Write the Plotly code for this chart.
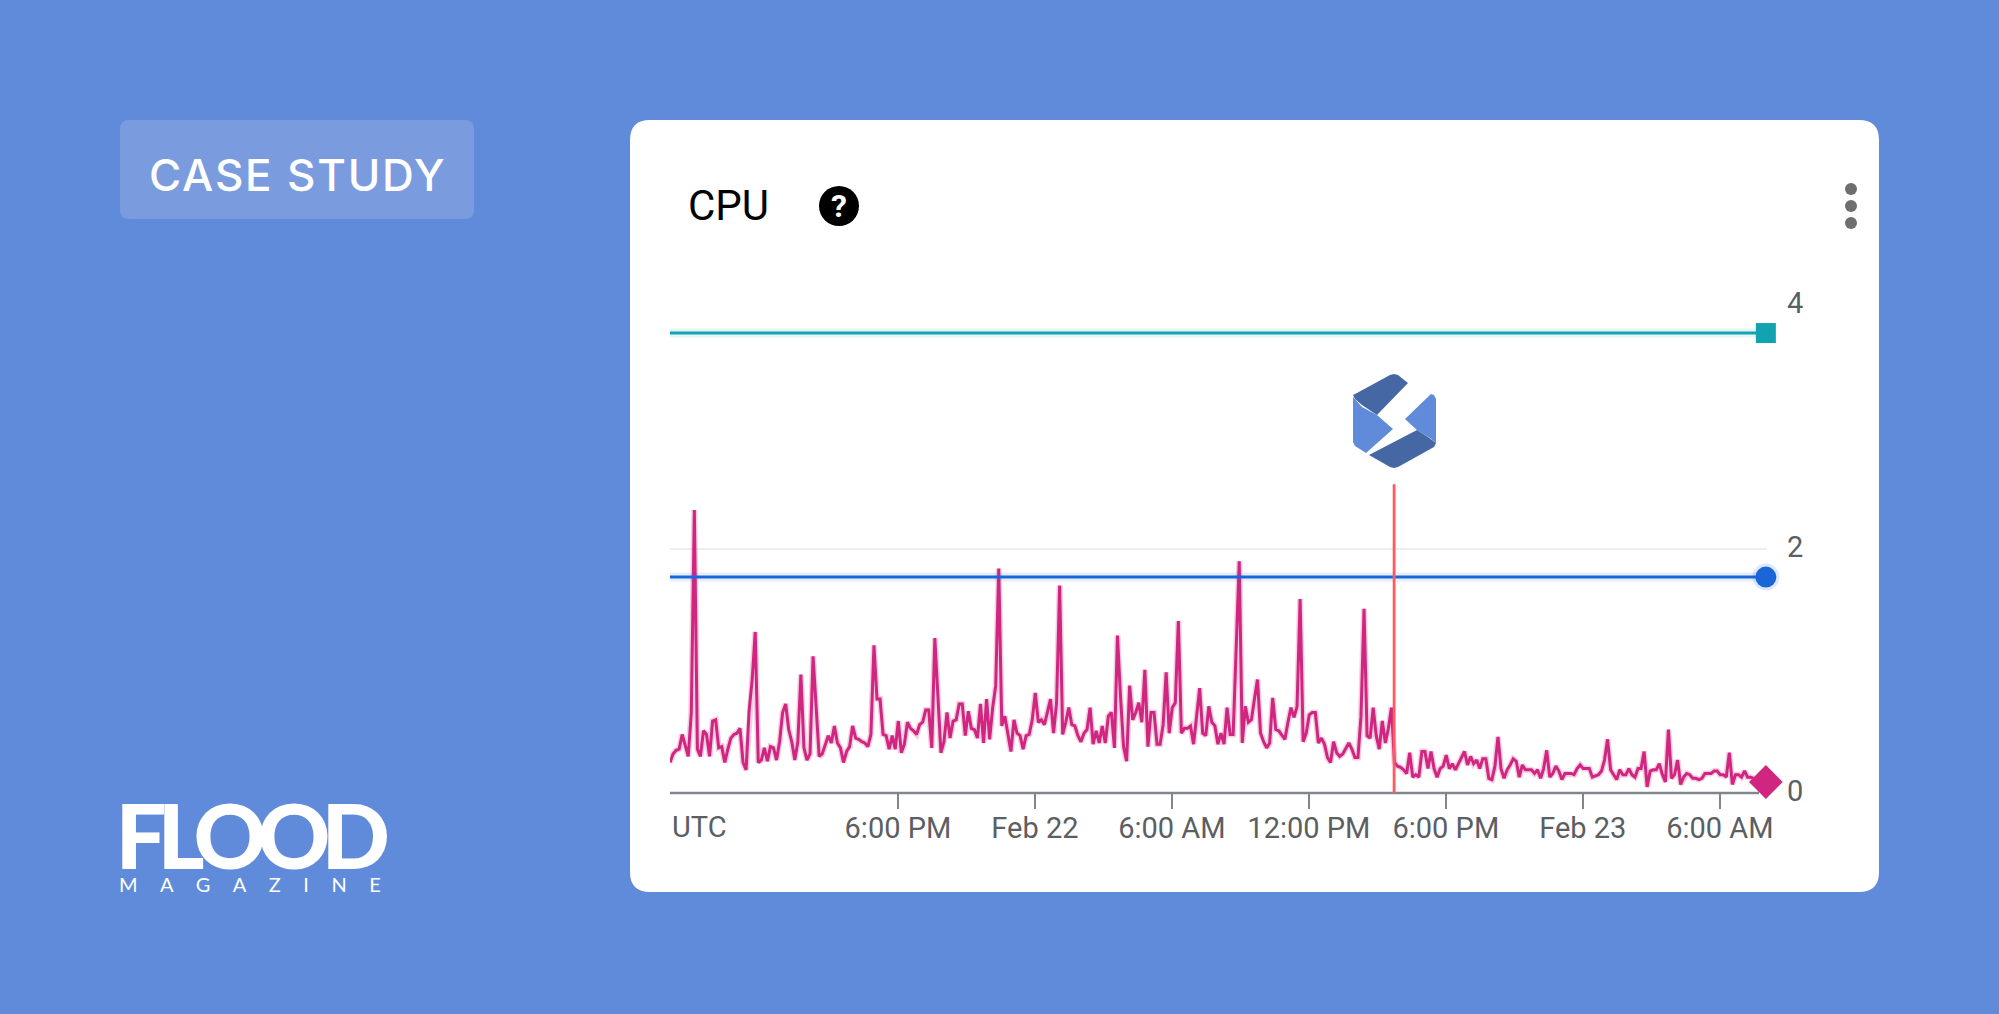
import pandas as pd
import plotly.graph_objs as go

W = 1999
H = 1014

START = '2021-02-21 08:01'
STEP = '8min'

cpu_morning = [
    .25, .32, .35, .36, .48, .38, .30, .66, 2.32, .36, .30, .51, .48, .30, .59, .60,
    .37, .38, .25, .36, .45, .48, .49, .53, .25, .19, .68, .93, 1.32, .25, .27, .37,
    .26, .38, .37, .27, .42, .66, .73, .52, .42, .27, .42, .97, .37, .27, .32, 1.12,
    .68, .30, .32, .40, .47, .41, .55, .41, .37, .25, .34, .38, .55,
]
cpu_evening = [
    .45, .44, .42, .41, .38, .48, 1.21, .77, .77, .48, .47, .36, .47, .36, .59, .33,
    .40, .58, .53, .51, .48, .56, .58, .68, .68, .37, 1.27, .79, .33, .42, .66, .45,
    .59, .60, .73, .73, .47, .67, .53, .52, .45, .73, .41, .77, .44, .70, .88, 1.84,
    .55, .63, .47, .34, .60, .49, .47, .36, .47, .48, .60, .82, .58,
]
cpu_night = [
    .60, .56, .66, .77, .49, .74, 1.70, .48, .58, .70, .56, .55, .47, .42, .49, .52,
    .70, .40, .51, .41, .55, .41, .63, .66, .37, 1.29, .79, .38, .26, .88, .60, .66,
    .74, .58, 1.01, .38, .66, .66, .40, .40, .56, .99, .49, .70, .74, 1.41, .49, .53,
    .53, .55, .40, .63, .86, .49, .47, .71, .58, .55, .40, .49, .40,
]
cpu_midday = [
    .70, .48, .48, 1.15, 1.90, .41, .71, .58, .60, .77, .93, .49, .42, .37, .41, .78,
    .52, .51, .47, .44, .58, .70, .62, .71, 1.59, .42, .49, .64, .66, .66, .41, .45,
    .40, .29, .25, .42, .33, .30, .32, .36, .41, .36, .29, .29, .63, 1.51, .47, .45,
    .70, .47, .36, .59, .41, .53, .70, .25, .22, .21, .19, .16,
]
cpu_after = [
    .33, .13, .15, .13, .34, .34, .20, .34, .20, .13, .20, .22, .31, .20, .24, .19,
    .24, .30, .34, .23, .30, .24, .27, .20, .28, .28, .12, .11, .22, .46, .20, .12,
    .19, .23, .28, .26, .13, .23, .19, .19, .19, .16, .19, .12, .20, .35, .13, .16,
    .22, .18, .11, .16, .16, .16, .15, .20,
]
cpu_last = [
    .23, .20, .20, .20, .13, .14, .15, .18, .27, .44, .19, .15, .11, .19, .15, .15,
    .20, .15, .13, .20, .20, .34, .05, .18, .19, .19, .24, .15, .09, .52, .12, .15,
    .27, .07, .13, .16, .15, .12, .12, .11, .12, .16, .16, .16, .18, .18, .15, .15,
    .13, .33, .07, .15, .15, .13, .18, .13, .13, .12, .08, .09, .09, .09,
]
cpu = cpu_morning + cpu_evening + cpu_night + cpu_midday + cpu_after + cpu_last

limit_high = 3.77
limit_request = 1.77
event_time = '2021-02-22 15:44'
event_span = [-0.17, 2.53]

x_ticks = ['2021-02-21 18:00', '2021-02-22 00:00', '2021-02-22 06:00', '2021-02-22 12:00',
           '2021-02-22 18:00', '2021-02-23 00:00', '2021-02-23 06:00']
x_labels = ['6:00 PM', 'Feb 22', '6:00 AM', '12:00 PM', '6:00 PM', 'Feb 23', '6:00 AM']
y_ticks = [0, 2, 4]

BG = '#5F8BDA'
MAGENTA = '#D0267F'
BLUE = '#1A66D6'
TEAL = '#12A3B2'
RED = '#FF5A60'
TEXT = '#5B5F63'
DARK_LOGO = '#4567A4'

times = pd.date_range(START, periods=len(cpu), freq=STEP)
t_end = times[-1]


def px(x):
    return x / W


def py(y):
    return 1 - y / H


def poly(points, color):
    path = 'M' + ' L'.join(f'{px(x):.5f},{py(y):.5f}' for x, y in points) + ' Z'
    return dict(type='path', xref='paper', yref='paper', path=path, layer='below',
                fillcolor=color, line=dict(width=0))


def round_rect(x0, y0, x1, y1, r, color):
    p = [('M', x0 + r, y0), ('L', x1 - r, y0), ('Q', x1, y0, x1, y0 + r), ('L', x1, y1 - r),
         ('Q', x1, y1, x1 - r, y1), ('L', x0 + r, y1), ('Q', x0, y1, x0, y1 - r),
         ('L', x0, y0 + r), ('Q', x0, y0, x0 + r, y0)]
    parts = []
    for seg in p:
        vals = seg[1:]
        coords = ' '.join(f'{px(vals[i]):.5f},{py(vals[i + 1]):.5f}' for i in range(0, len(vals), 2))
        parts.append(seg[0] + coords)
    return dict(type='path', xref='paper', yref='paper', path=' '.join(parts) + ' Z',
                layer='below', fillcolor=color, line=dict(width=0))


def dot(cx, cy, r, color, layer='below'):
    return dict(type='circle', xref='paper', yref='paper', x0=px(cx - r), x1=px(cx + r),
                y0=py(cy + r), y1=py(cy - r), fillcolor=color, line=dict(width=0), layer=layer)


def label(text, x, y, size, color, family='Roboto', anchor='center', weight=None):
    return dict(text=text, x=px(x), y=py(y), xref='paper', yref='paper', showarrow=False,
                xanchor=anchor, yanchor='middle',
                font=dict(family=family, size=size, color=color, weight=weight))


def line_trace(x, y, color, width, opacity=1):
    return go.Scatter(x=x, y=y, mode='lines', line=dict(color=color, width=width),
                      opacity=opacity, cliponaxis=False, hoverinfo='skip', showlegend=False)


def end_marker(y, symbol, size, color):
    return go.Scatter(x=[t_end], y=[y], mode='markers', cliponaxis=False, showlegend=False,
                      marker=dict(symbol=symbol, size=size, color=color), hoverinfo='skip')


span = [times[0], t_end]

traces = [
    line_trace(times, cpu, MAGENTA, 6, 0.22),
    line_trace(times, cpu, MAGENTA, 3),
    line_trace(span, [limit_request] * 2, BLUE, 9, 0.1),
    line_trace(span, [limit_request] * 2, BLUE, 3),
    line_trace(span, [limit_high] * 2, TEAL, 9, 0.1),
    line_trace(span, [limit_high] * 2, TEAL, 3),
    line_trace([event_time] * 2, event_span, RED, 2.8),
    end_marker(limit_high, 'square', 20, TEAL),
    end_marker(limit_request, 'circle', 27, 'rgba(26,102,214,0.15)'),
    end_marker(limit_request, 'circle', 21, BLUE),
    end_marker(cpu[-1], 'diamond', 26, MAGENTA),
]

shapes = [
    round_rect(630, 120, 1879, 892, 20, 'white'),
    round_rect(120, 120, 474, 219, 9, '#7A9CDF'),
    dot(839, 206, 20, 'black'),
    dot(1851, 189, 6, '#6E6E6E'),
    dot(1851, 206, 6, '#6E6E6E'),
    dot(1851, 223, 6, '#6E6E6E'),
    # axis line stops a little short of the end markers
    dict(type='line', xref='paper', yref='paper', x0=px(670), x1=px(1759), y0=py(793), y1=py(793),
         line=dict(color='#80868B', width=2.5), layer='below'),
    # hexagon logo, corners cut small to read as rounded
    poly([(1357, 393), (1390, 375), (1394, 374), (1398, 375), (1408, 383), (1377, 415),
          (1362, 405), (1355, 399), (1353, 395)], DARK_LOGO),
    poly([(1353, 397), (1362, 407), (1377, 415), (1393, 429), (1366, 453), (1355, 446),
          (1353, 442)], BG),
    poly([(1431, 394), (1434, 395), (1436, 399), (1436, 443), (1430, 438), (1417, 430),
          (1405, 419)], BG),
    poly([(1369, 455), (1417, 430), (1428, 437), (1436, 443), (1434, 447), (1398, 467),
          (1394, 468), (1390, 467)], DARK_LOGO),
]

annotations = [
    label('CASE STUDY', 297, 175, 44, 'white', family='Inter', weight=500),
    label('CPU', 728, 205, 42, 'black'),
    label('?', 839, 206, 32, 'white', weight=700),
    label('UTC', 670, 827, 29, TEXT, anchor='left'),
    label('FLOOD', 248, 834, 90, 'white', family='Lato', weight=900),
    label('MAGAZINE', 261, 884, 20, 'white', family='Lato'),
]

layout = go.Layout(
    width=W,
    height=H,
    margin=dict(l=0, r=0, t=0, b=0),
    paper_bgcolor=BG,
    plot_bgcolor='rgba(0,0,0,0)',
    showlegend=False,
    hovermode=False,
    shapes=shapes,
    annotations=annotations,
    xaxis=dict(
        domain=[px(670), px(1767)],
        range=[times[0], '2021-02-23 08:04'],
        type='date',
        automargin=False,
        tickmode='array',
        tickvals=x_ticks,
        ticktext=x_labels,
        ticks='outside',
        ticklen=15,
        tickwidth=2,
        tickcolor='#80868B',
        showgrid=False,
        zeroline=False,
        showline=False,
        ticklabelstandoff=-6,
        tickfont=dict(family='Roboto', size=29, color=TEXT),
    ),
    yaxis=dict(
        domain=[py(793), py(305)],
        range=[0, 4],
        side='right',
        automargin=False,
        tickmode='array',
        tickvals=y_ticks,
        ticks='',
        showline=False,
        zeroline=False,
        gridcolor='#EEEEEE',
        gridwidth=2,
        ticklabelstandoff=19,
        ticklabelshift=-2,
        tickfont=dict(family='Roboto', size=29, color=TEXT),
    ),
)

fig = go.Figure(data=traces, layout=layout)

# annotations have no tracking option, so the spaced-out labels get it here
post = """
document.body.style.margin = '0';
document.body.style.overflow = 'hidden';
var spacing = {'CASE STUDY': '1.8px', 'MAGAZINE': '22.5px', 'FLOOD': '-9px'};
document.querySelectorAll('.annotation-text').forEach(function (t) {
    if (spacing[t.textContent]) { t.style.letterSpacing = spacing[t.textContent]; }
});
"""
fig.write_html("out.html", post_script=post, config=dict(displayModeBar=False))
